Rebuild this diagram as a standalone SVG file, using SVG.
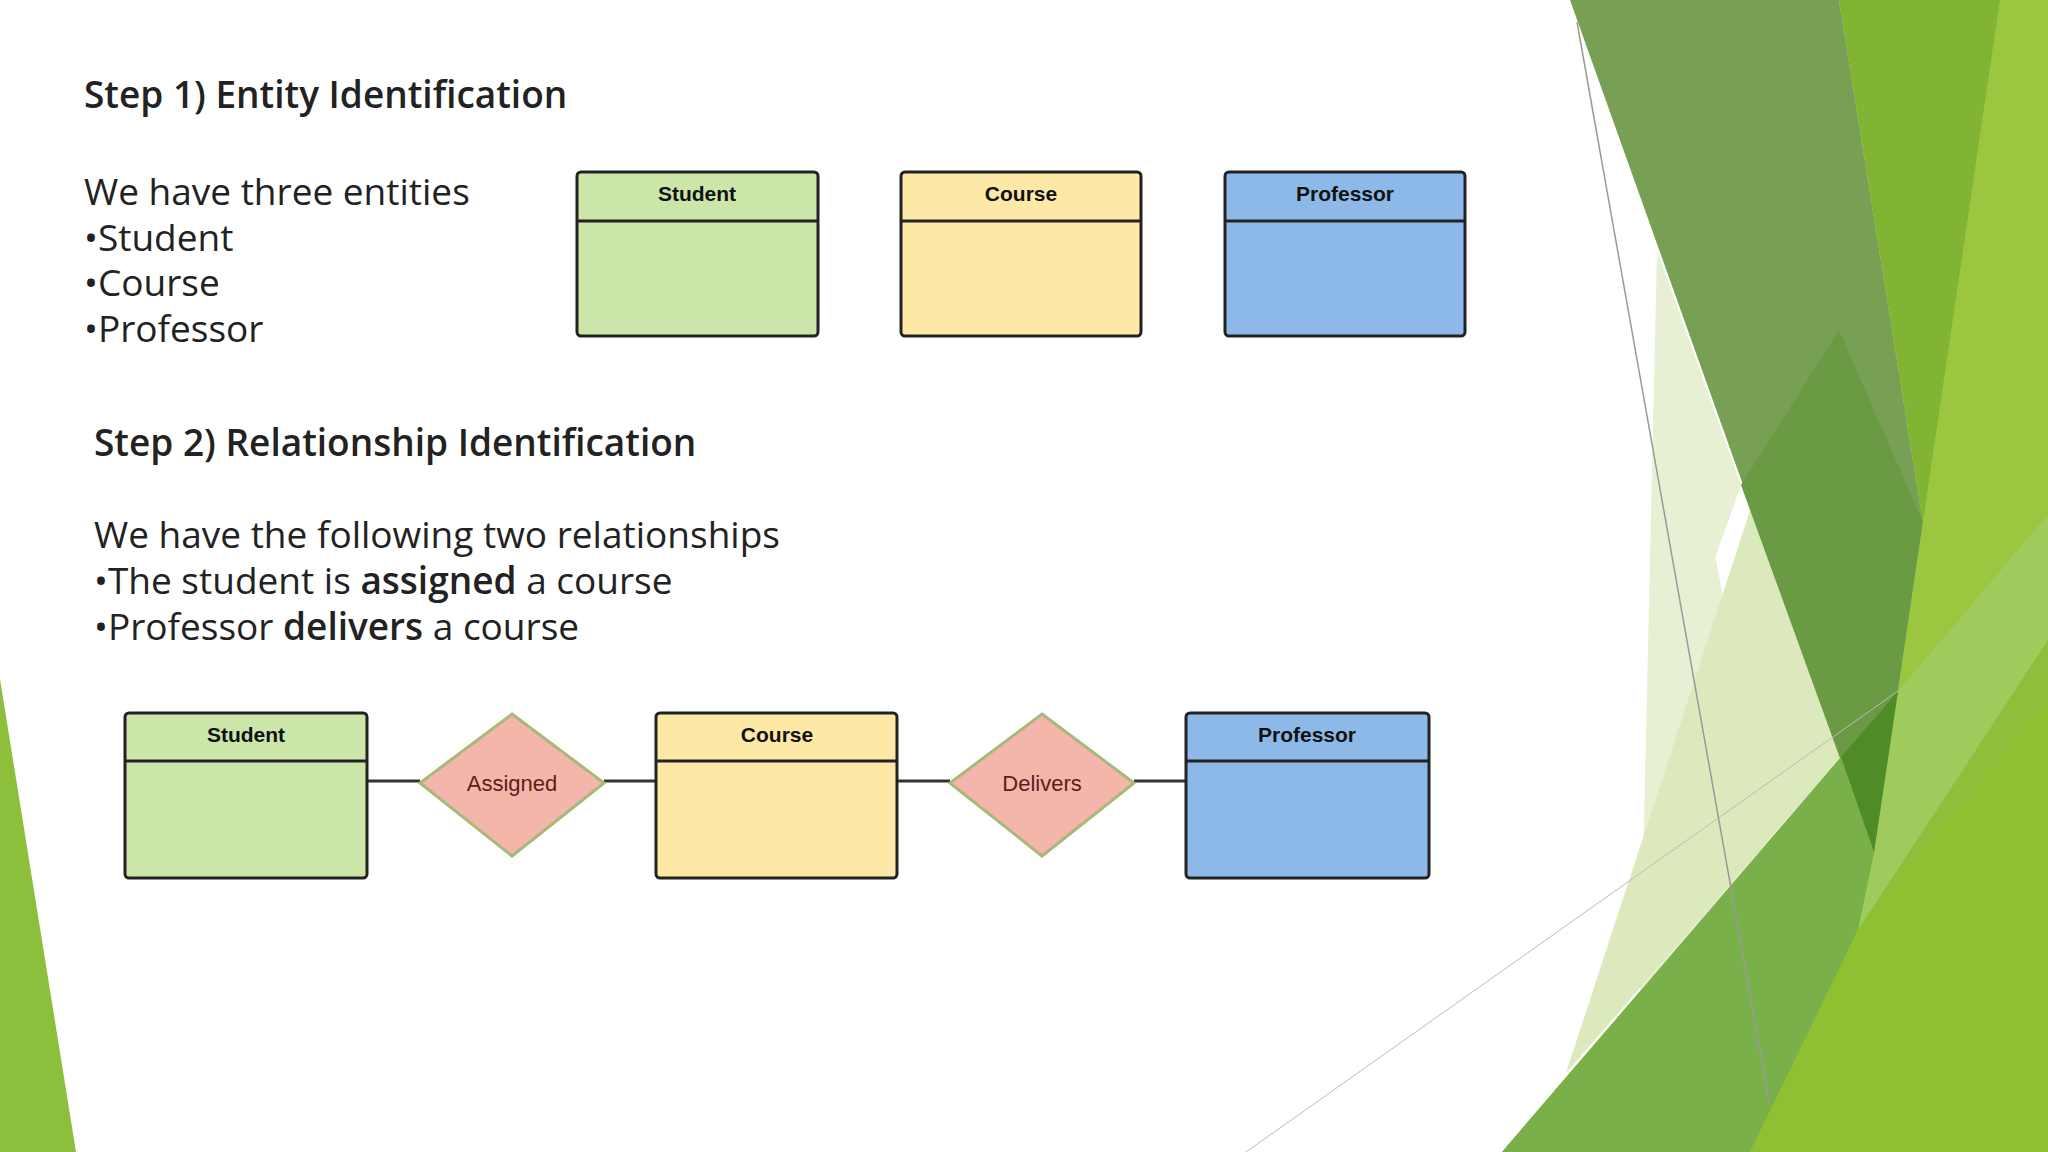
<svg xmlns="http://www.w3.org/2000/svg" width="2048" height="1152" viewBox="0 0 2048 1152">
<style>
.t{font-family:"Open Sans","Noto Sans",sans-serif;fill:#222;font-size:37px}
.h{font-weight:600}
.lbl{font-family:"Liberation Sans",Arial,sans-serif;font-weight:bold;font-size:21px;fill:#111;text-anchor:middle}
.rl{font-family:"Liberation Sans",Arial,sans-serif;font-size:22px;fill:#5a2020;text-anchor:middle}
.box{stroke:#222;stroke-width:3}
.ln{stroke:#333;stroke-width:3}
.dia{fill:#f4b6aa;stroke:#a8b878;stroke-width:3}
</style>
<rect width="2048" height="1152" fill="#fff"/>
<g id="background">
<polygon points="0,679 76,1152 0,1152" fill="#8cc03c"/>
<polygon points="1839,0 2048,0 2048,1152 1502,1152 1841,757 1874,852 1923,522" fill="#8dbf3a"/>
<polygon points="1657,250 1769,838 1700,1000 1640,1000" fill="#e8f0d4"/>
<polygon points="1566,1073 1760,480 1898,691 1841,757" fill="#dce9bc"/>
<polygon points="1657,250 1741,485 1700,600" fill="#e8f0d4"/>
<polygon points="1570,0 1839,0 1923,522 1874,852" fill="#77a055"/>
<polygon points="1741,485 1839,330 1923,522 1874,852" fill="#6a9a44"/>
<polygon points="1839,0 2000,0 1923,522" fill="#80b432"/>
<polygon points="2000,0 2048,0 2048,514 1898,691 1923,522" fill="#9ac640"/>
<polygon points="1874,852 1898,691 2048,514 2048,640 1858,930" fill="#9fca5c"/>
<polygon points="1502,1152 1841,757 1898,691 1874,852 1858,930 1750,1152" fill="#79b04a"/>
<polygon points="1750,1152 1858,930 2048,700 2048,1152" fill="#8fc031"/>
<polygon points="1841,757 1898,691 1874,852" fill="#4f8c28"/>
<line x1="1577" y1="22" x2="1769" y2="1102" stroke="#999" stroke-width="1.5"/>
<line x1="1246" y1="1152" x2="1898" y2="691" stroke="#bbb" stroke-width="1"/>
</g>
<g id="text">
<text class="t h" x="84" y="108">Step 1) Entity Identification</text>
<text class="t" x="84" y="205">We have three entities</text>
<text class="t" x="84" y="251">•Student</text>
<text class="t" x="84" y="296">•Course</text>
<text class="t" x="84" y="342">•Professor</text>
<text class="t h" x="94" y="456">Step 2) Relationship Identification</text>
<text class="t" x="94" y="548">We have the following two relationships</text>
<text class="t" x="94" y="594">•The student is <tspan font-weight="600">assigned</tspan> a course</text>
<text class="t" x="94" y="640">•Professor <tspan font-weight="600">delivers</tspan> a course</text>
</g>
<g id="e1-student"><rect class="box" x="577" y="172" width="241" height="164" rx="4" fill="#cce6aa"/><line class="box" x1="577" y1="221" x2="818" y2="221"/><text class="lbl" x="697" y="201">Student</text></g>
<g id="e1-course"><rect class="box" x="901" y="172" width="240" height="164" rx="4" fill="#fde9a5"/><line class="box" x1="901" y1="221" x2="1141" y2="221"/><text class="lbl" x="1021" y="201">Course</text></g>
<g id="e1-professor"><rect class="box" x="1225" y="172" width="240" height="164" rx="4" fill="#8db9e8"/><line class="box" x1="1225" y1="221" x2="1465" y2="221"/><text class="lbl" x="1345" y="201">Professor</text></g>
<g id="connectors">
<line class="ln" x1="367" y1="781" x2="420" y2="781"/>
<line class="ln" x1="604" y1="781" x2="656" y2="781"/>
<line class="ln" x1="897" y1="781" x2="950" y2="781"/>
<line class="ln" x1="1134" y1="781" x2="1186" y2="781"/>
</g>
<g id="student"><rect class="box" x="125" y="713" width="242" height="165" rx="4" fill="#cce6aa"/><line class="box" x1="125" y1="761" x2="367" y2="761"/><text class="lbl" x="246" y="742">Student</text></g>
<g id="assigned"><polygon class="dia" points="512,714 604,783 512,856 420,783"/><text class="rl" x="512" y="791">Assigned</text></g>
<g id="course"><rect class="box" x="656" y="713" width="241" height="165" rx="4" fill="#fde9a5"/><line class="box" x1="656" y1="761" x2="897" y2="761"/><text class="lbl" x="777" y="742">Course</text></g>
<g id="delivers"><polygon class="dia" points="1042,714 1134,783 1042,856 950,783"/><text class="rl" x="1042" y="791">Delivers</text></g>
<g id="professor"><rect class="box" x="1186" y="713" width="243" height="165" rx="4" fill="#8db9e8"/><line class="box" x1="1186" y1="761" x2="1429" y2="761"/><text class="lbl" x="1307" y="742">Professor</text></g>
</svg>
